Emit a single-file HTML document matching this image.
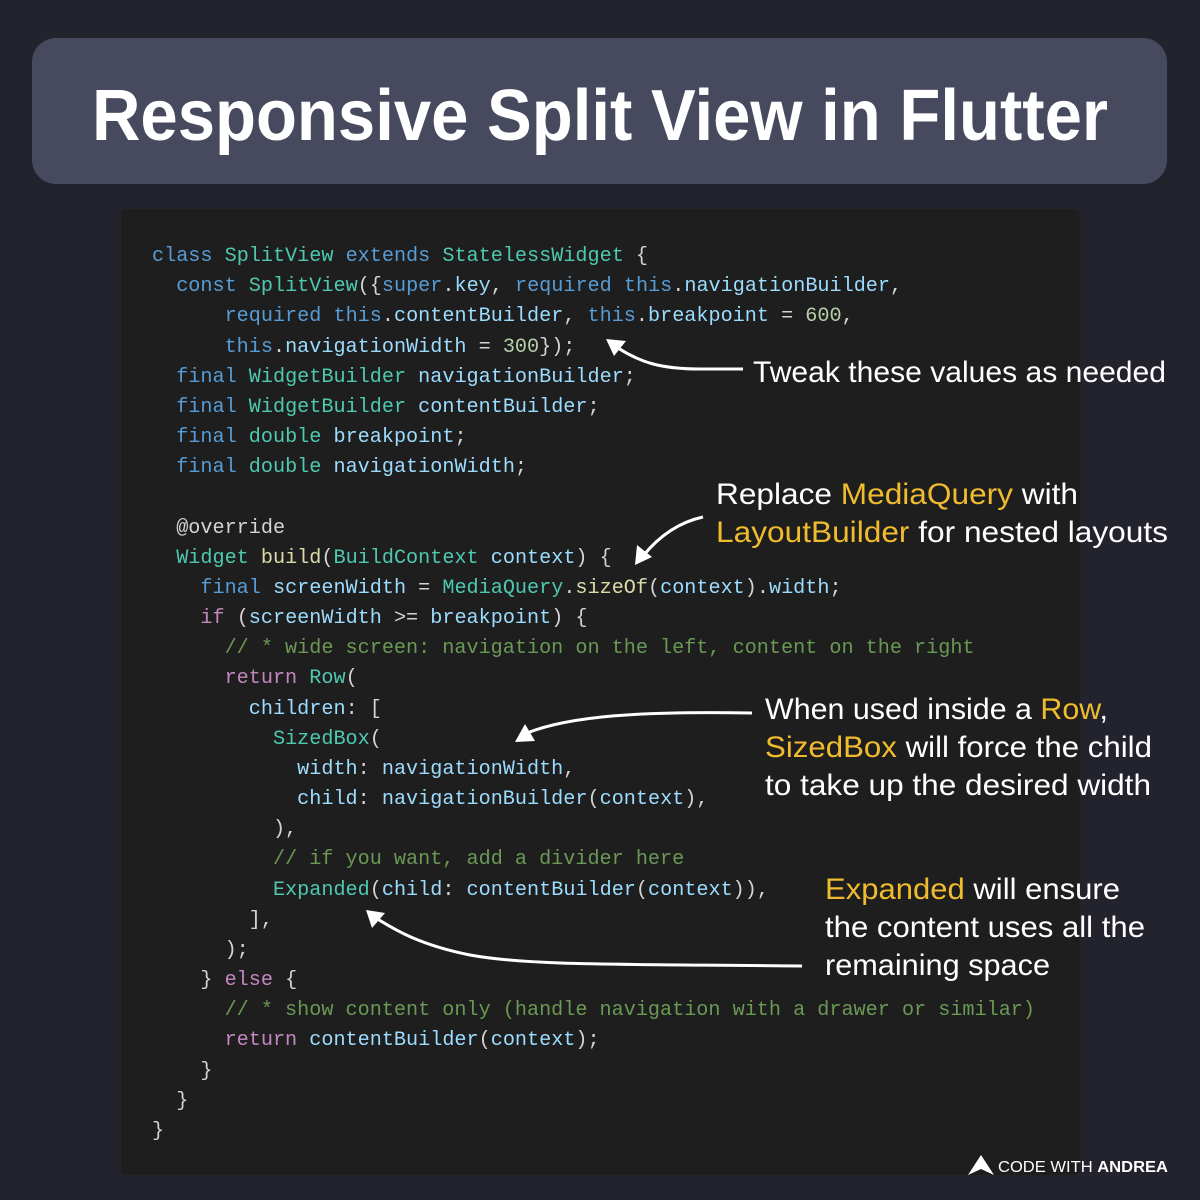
<!DOCTYPE html>
<html><head><meta charset="utf-8"><style>
html,body{margin:0;padding:0;background:#22232c;width:1200px;height:1200px;overflow:hidden;position:relative}
.title{position:absolute;left:32px;top:38px;width:1135px;height:146px;background:#474a5e;border-radius:24px}
.code{position:absolute;left:121px;top:209px;width:959px;height:966px;background:#1e1e1e;border-radius:6px}
pre{position:absolute;left:152px;top:242px;margin:0;font-family:"Liberation Mono",monospace;font-size:20.17px;line-height:30.17px;color:#d4d4d4;white-space:pre}
.k{color:#569cd6}.t{color:#4ec9b0}.v{color:#9cdcfe}.n{color:#b5cea8}.c{color:#6a9955}.p{color:#c586c0}.f{color:#dcdcaa}
svg{position:absolute;left:0;top:0}
</style></head><body>
<div class="title"></div>
<div class="code"></div>
<pre><span class="k">class</span> <span class="t">SplitView</span> <span class="k">extends</span> <span class="t">StatelessWidget</span> {
  <span class="k">const</span> <span class="t">SplitView</span>({<span class="k">super</span>.<span class="v">key</span>, <span class="k">required</span> <span class="k">this</span>.<span class="v">navigationBuilder</span>,
      <span class="k">required</span> <span class="k">this</span>.<span class="v">contentBuilder</span>, <span class="k">this</span>.<span class="v">breakpoint</span> = <span class="n">600</span>,
      <span class="k">this</span>.<span class="v">navigationWidth</span> = <span class="n">300</span>});
  <span class="k">final</span> <span class="t">WidgetBuilder</span> <span class="v">navigationBuilder</span>;
  <span class="k">final</span> <span class="t">WidgetBuilder</span> <span class="v">contentBuilder</span>;
  <span class="k">final</span> <span class="t">double</span> <span class="v">breakpoint</span>;
  <span class="k">final</span> <span class="t">double</span> <span class="v">navigationWidth</span>;

  @override
  <span class="t">Widget</span> <span class="f">build</span>(<span class="t">BuildContext</span> <span class="v">context</span>) {
    <span class="k">final</span> <span class="v">screenWidth</span> = <span class="t">MediaQuery</span>.<span class="f">sizeOf</span>(<span class="v">context</span>).<span class="v">width</span>;
    <span class="p">if</span> (<span class="v">screenWidth</span> &gt;= <span class="v">breakpoint</span>) {
      <span class="c">// * wide screen: navigation on the left, content on the right</span>
      <span class="p">return</span> <span class="t">Row</span>(
        <span class="v">children</span>: [
          <span class="t">SizedBox</span>(
            <span class="v">width</span>: <span class="v">navigationWidth</span>,
            <span class="v">child</span>: <span class="v">navigationBuilder</span>(<span class="v">context</span>),
          ),
          <span class="c">// if you want, add a divider here</span>
          <span class="t">Expanded</span>(<span class="v">child</span>: <span class="v">contentBuilder</span>(<span class="v">context</span>)),
        ],
      );
    } <span class="p">else</span> {
      <span class="c">// * show content only (handle navigation with a drawer or similar)</span>
      <span class="p">return</span> <span class="v">contentBuilder</span>(<span class="v">context</span>);
    }
  }
}</pre>
<svg width="1200" height="1200" viewBox="0 0 1200 1200" font-family="Liberation Sans, sans-serif">
<text x="92" y="140" font-size="72" font-weight="bold" fill="#fff" textLength="1016" lengthAdjust="spacingAndGlyphs">Responsive Split View in Flutter</text>
<g font-size="30" fill="#fff" lengthAdjust="spacingAndGlyphs">
<text x="753" y="382" textLength="413" lengthAdjust="spacingAndGlyphs">Tweak these values as needed</text>
<text x="716" y="504" textLength="362" lengthAdjust="spacingAndGlyphs">Replace <tspan fill="#f0bc2e">MediaQuery</tspan> with</text>
<text x="716" y="542" textLength="452" lengthAdjust="spacingAndGlyphs"><tspan fill="#f0bc2e">LayoutBuilder</tspan> for nested layouts</text>
<text x="765" y="719" textLength="343" lengthAdjust="spacingAndGlyphs">When used inside a <tspan fill="#f0bc2e">Row</tspan>,</text>
<text x="765" y="757" textLength="387" lengthAdjust="spacingAndGlyphs"><tspan fill="#f0bc2e">SizedBox</tspan> will force the child</text>
<text x="765" y="795" textLength="386" lengthAdjust="spacingAndGlyphs">to take up the desired width</text>
<text x="825" y="899" textLength="295" lengthAdjust="spacingAndGlyphs"><tspan fill="#f0bc2e">Expanded</tspan> will ensure</text>
<text x="825" y="937" textLength="320" lengthAdjust="spacingAndGlyphs">the content uses all the</text>
<text x="825" y="975" textLength="225" lengthAdjust="spacingAndGlyphs">remaining space</text>
</g>
<g fill="none" stroke="#fff" stroke-width="3">
<path d="M743 369 L700 369 C660 369 640 362 618 348"/>
<path d="M703 517 C680 522 660 535 643 556"/>
<path d="M752 713 C640 711 570 716 527 733"/>
<path d="M802 966 C620 964 530 966 470 955 C420 945 395 930 376 918"/>
</g>
<g fill="#fff">
<polygon points="606,339 626,341 614,356"/>
<polygon points="635,565 637,545 652,557"/>
<polygon points="515,742 525,724 535,741"/>
<polygon points="366,910 385,913 372,928"/>
<polygon points="968,1175 981,1155 994,1175 981,1169"/>
</g>
<text x="998" y="1172" font-size="16" fill="#fff" textLength="170" lengthAdjust="spacingAndGlyphs">CODE WITH <tspan font-weight="bold">ANDREA</tspan></text>
</svg>
</body></html>
